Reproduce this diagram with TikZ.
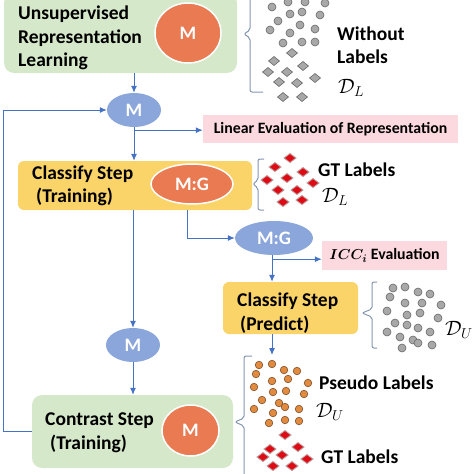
\documentclass[tikz,border=0pt]{standalone}
\usepackage{fontspec}
\setmainfont{Carlito}
\usetikzlibrary{shapes.geometric,arrows.meta}
\definecolor{boxgreen}{RGB}{214,232,202}
\definecolor{boxyellow}{RGB}{250,212,104}
\definecolor{boxpink}{RGB}{251,217,222}
\definecolor{ellorange}{RGB}{233,122,82}
\definecolor{ellblue}{RGB}{138,166,218}
\definecolor{arrblue}{RGB}{68,114,196}
\definecolor{bracecol}{RGB}{132,151,176}
\definecolor{dotgray}{RGB}{168,168,168}
\definecolor{dotgrayedge}{RGB}{105,105,105}
\definecolor{dotorange}{RGB}{226,138,62}
\definecolor{dotorangeedge}{RGB}{120,80,45}
\definecolor{diamred}{RGB}{222,10,20}
\definecolor{diamrededge}{RGB}{190,160,160}
\begin{document}
\begin{tikzpicture}[x=1pt,y=-1pt,
  lbl/.style={font=\fontsize{19.5}{23.5}\selectfont\bfseries, inner sep=0, align=left, text=black},
  greenbox/.style={fill=boxgreen, rounded corners=10, inner sep=0},
  yellowbox/.style={fill=boxyellow, rounded corners=6, inner sep=0},
  pinkbox/.style={fill=boxpink, inner sep=0, font=\fontsize{15.8}{18}\selectfont\bfseries},
  orangeell/.style={ellipse, fill=ellorange, draw=white, line width=1.5, inner sep=0, text=white, font=\fontsize{19}{22}\selectfont\bfseries},
  blueell/.style={ellipse, fill=ellblue, inner sep=0, text=white, font=\fontsize{19}{22}\selectfont\bfseries},
  arr/.style={draw=arrblue, line width=1, -{Latex[length=7,width=6]}},
  bracepath/.style={draw=bracecol, line width=1, rounded corners=2},
  mathlbl/.style={inner sep=0, font=\fontsize{20.74}{22}\selectfont},
  graydot/.style={fill=dotgray, draw=dotgrayedge, line width=0.6},
  orangedot/.style={fill=dotorange, draw=dotorangeedge, line width=0.6},
  reddiam/.style={fill=diamred, draw=diamrededge, line width=0.9},
  graydiam/.style={fill=dotgray, draw=dotgrayedge, line width=0.6}]
\useasboundingbox (0,0) rectangle (474,474);

% ---- boxes ----
\node[greenbox, minimum width=233, minimum height=80] (unsup) at (120.5,33) {};
\node[lbl, anchor=west] (unsuptxt) at (18,38) {Unsupervised\\Representation\\Learning};
\node[orangeell, minimum width=66, minimum height=60] (o1) at (188,33) {M};

\node[blueell, minimum width=54, minimum height=34] (m1) at (134,110) {M};

\node[pinkbox, minimum width=255, minimum height=28] (lin) at (330.5,129) {Linear Evaluation of Representation};

\node[yellowbox, minimum width=234, minimum height=49] (cls) at (135,185.5) {};
\node[lbl, anchor=west] (clstxt) at (32,186) {Classify Step\\\hspace*{4pt}(Training)};
\node[orangeell, minimum width=82, minimum height=40] (o2) at (192,184) {M:G};

\node[blueell, minimum width=78, minimum height=34] (mg) at (274,238) {M:G};

\node[pinkbox, minimum width=125, minimum height=29] (icc) at (384.5,255.5) {{\boldmath$ICC_i$} Evaluation};

\node[yellowbox, minimum width=135, minimum height=52] (pred) at (290.5,308) {};
\node[lbl, anchor=west] (predtxt) at (237,313) {Classify Step\\\hspace*{3pt}(Predict)};

\node[blueell, minimum width=54, minimum height=34] (m2) at (133,345) {M};

\node[greenbox, minimum width=201, minimum height=73] (con) at (132.5,431.5) {};
\node[lbl, anchor=west] (contxt) at (45,433) {Contrast Step\\\hspace*{5pt}(Training)};
\node[orangeell, minimum width=57, minimum height=51] (o3) at (190.5,430.5) {M};

% ---- side labels ----
\node[lbl, anchor=west] (wol) at (337,45) {Without\\Labels};
\node[mathlbl, anchor=west] (dl1) at (338,88) {$\mathcal{D}_L$};
\node[lbl, anchor=west] (gt1) at (318,170) {GT Labels};
\node[mathlbl, anchor=west] (dl2) at (322,197) {$\mathcal{D}_L$};
\node[mathlbl, anchor=west] (du1) at (445,330) {$\mathcal{D}_U$};
\node[lbl, anchor=west] (pl) at (319,383) {Pseudo Labels};
\node[mathlbl, anchor=west] (du2) at (316,412) {$\mathcal{D}_U$};
\node[lbl, anchor=west] (gt2) at (321,457) {GT Labels};

% ---- connectors ----
\draw[arr] (m1 |- unsup.south) -- (m1.north);
\draw[arr] (m1.south) -- (m1 |- cls.north);
\coordinate (split1) at ([yshift=-3]m1.south);
\draw[arr] (split1) -- (lin.west |- split1);
\draw[arr] (con.west) -- ++(-28,0) |- (m1.west);
\draw[arr] (m2 |- cls.south) -- (m2.north);
\draw[arr] ([xshift=52]cls.south) |- (mg.west);
\draw[arr] ([xshift=-2]mg.south) -- ([xshift=-2]mg.south |- pred.north);
\coordinate (split2) at ([xshift=-2,yshift=-4]mg.south);
\draw[arr] (split2) -- (icc.west |- split2);
\coordinate (pend) at (272,355);
\draw[arr] (pred.south -| pend) -- (pend);
\draw[arr] (m2.south) -- (m2 |- con.north);

% ---- braces ----
\draw[bracepath] (256,-6) -- (250,-6) -- (250,30) -- (244,34) -- (250,38) -- (250,92) -- (263,92);
\draw[bracepath] (264,159) -- (258,159) -- (258,180) -- (253,184) -- (258,188) -- (258,210) -- (264,210);
\draw[bracepath] (377,282) -- (372,282) -- (372,309) -- (362,313) -- (372,317) -- (372,348) -- (377,348);
\draw[bracepath] (252,356) -- (244,356) -- (244,418) -- (235,422) -- (244,426) -- (244,480);

% ---- dots ----
\foreach \x/\y in {272/7,288/2,305/2,325/3,290/14,302/12,320/15,278/21,270/30,300/25,315/29,290/33,283/43,302/42,315/42}
  \draw[graydot] (\x,\y) circle (4);
\foreach \x/\y in {292/53,274/61,303/66,268/72,287/72,315/78,279/82,297/83,283/97,302/97}
  \draw[graydiam] ({\x-5.5},\y) -- (\x,{\y-4.5}) -- ({\x+5.5},\y) -- (\x,{\y+4.5}) -- cycle;
\foreach \x/\y in {290/158,275/167,303/172,267/180,287/178,313/183,278/190,297/190,283/202,302/200}
  \draw[reddiam] ({\x-6},\y) -- (\x,{\y-4.5}) -- ({\x+6},\y) -- (\x,{\y+4.5}) -- cycle;
\foreach \x/\y in {393/288,405/287,418/292,430/294,390/297,405/303,422/303,441/305,387/311,407/315,420/313,438/318,395/323,407/325,418/328,430/332,387/332,400/337,413/340,402/348,418/343,432/345}
  \draw[graydot] (\x,\y) circle (4);
\foreach \x/\y in {259/365,272/364,284/370,297/371,256/374,272/381,288/379,308/383,254/387,273/392,286/391,304/394,262/400,279/403,254/409,273/413,285/407,299/409,269/423,285/420,299/421}
  \draw[orangedot] (\x,\y) circle (3.8);
\foreach \x/\y in {285/435,298/447,270/449,263/457,282/455,307/459,273/466,292/466}
  \draw[reddiam] ({\x-6},\y) -- (\x,{\y-4.5}) -- ({\x+6},\y) -- (\x,{\y+4.5}) -- cycle;
\end{tikzpicture}
\end{document}
